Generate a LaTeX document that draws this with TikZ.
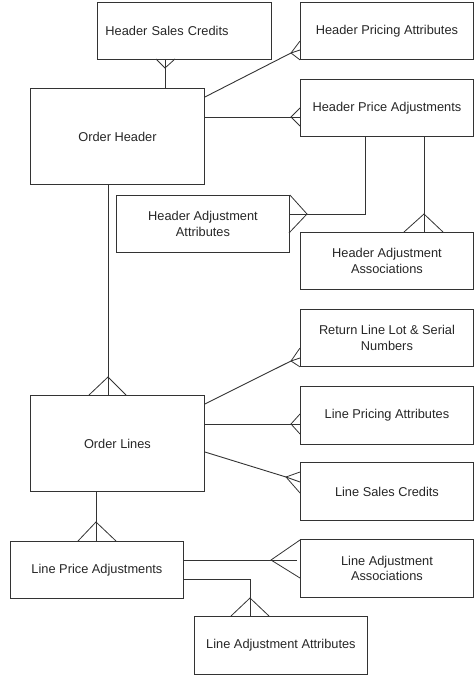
\documentclass[tikz,border=0pt]{standalone}
\usepackage{fontspec}
\setmainfont{Liberation Sans}
\begin{document}
\begin{tikzpicture}[x=1pt,y=-1pt,
  box/.style={draw=black!80, line width=0.9pt, anchor=north west, inner sep=2pt,
    minimum width=173pt, minimum height=57pt, align=center, text=black!85,
    font=\fontsize{12.8}{15.5}\selectfont},
  conn/.style={draw=black!80, line width=0.9pt, line join=miter},
  crow/.style={draw=black!80, line width=0.8pt}]
\useasboundingbox (0,0) rectangle (474,676);
% entities
\node[box, minimum width=174pt, text width=158pt, align=left, inner xsep=8pt] (hsc) at (97,2) {Header Sales Credits};
\node[box] (hpa) at (300,2) {Header Pricing Attributes};
\node[box, minimum width=174pt, minimum height=96pt] (oh) at (30,88) {Order Header};
\node[box] (hpadj) at (300,79) {Header Price Adjustments};
\node[box] (haattr) at (116,195) {Header Adjustment\\Attributes};
\node[box] (haassoc) at (300,232) {Header Adjustment\\Associations};
\node[box] (rll) at (300,309) {Return Line Lot \& Serial\\Numbers};
\node[box, minimum width=174pt, minimum height=96pt] (ol) at (30,395) {Order Lines};
\node[box, minimum height=58pt] (lpattr) at (300,386) {Line Pricing Attributes};
\node[box, minimum height=58pt] (lsc) at (300,462) {Line Sales Credits};
\node[box] (lpadj) at (10,541) {Line Price Adjustments};
\node[box, minimum height=58pt] (laassoc) at (300,539) {Line Adjustment\\Associations};
\node[box, minimum height=58pt] (laattr) at (194,616) {Line Adjustment Attributes};
% helper coordinates
\coordinate (x165) at (165,0);
\coordinate (x108) at (108,0);
\coordinate (x96) at (96,0);
\coordinate (x365) at (365,0);
\coordinate (x424) at (424,0);
\coordinate (x250) at (250,0);
\coordinate (y97) at (0,97);
\coordinate (y117) at (0,117);
\coordinate (y214) at (0,214);
\coordinate (y404) at (0,404);
\coordinate (y424) at (0,424);
\coordinate (y452) at (0,452);
\coordinate (y560) at (0,560);
\coordinate (y579) at (0,579);
% crow apexes
\coordinate (a1) at (165,68);
\coordinate (a2) at (291,53);
\coordinate (a3) at (291,117);
\coordinate (a4) at (307,214);
\coordinate (a5) at (424,214);
\coordinate (a6) at (108,377);
\coordinate (a7) at (291,361);
\coordinate (a8) at (291,424);
\coordinate (a9) at (286,477);
\coordinate (a10) at (96,522);
\coordinate (a11) at (271,560);
\coordinate (a12) at (250,598);
% 1 Order Header - Header Sales Credits
\draw[conn] (oh.north -| x165) -- (hsc.south -| x165);
\draw[crow] (156,59) -- (a1) -- (175,59);
% 2 Order Header - Header Pricing Attributes
\draw[conn] (oh.east |- y97) -- (a2) -- (hpa.west |- 0,50);
\draw[crow] (300,41) -- (a2) -- (hpa.south west);
% 3 Order Header - Header Price Adjustments
\draw[conn] (oh.east |- y117) -- (hpadj.west |- y117);
\draw[crow] (300,108) -- (a3) -- (300,126);
% 4 Header Price Adjustments - Header Adjustment Attributes
\draw[conn] (hpadj.south -| x365) -- (x365 |- y214) -- (haattr.east |- y214);
\draw[crow] (haattr.north east) -- (a4) -- (289,233);
% 5 Header Price Adjustments - Header Adjustment Associations
\draw[conn] (hpadj.south -| x424) -- (haassoc.north -| x424);
\draw[crow] (404,232) -- (a5) -- (443,232);
% 6 Order Header - Order Lines
\draw[conn] (oh.south -| x108) -- (ol.north -| x108);
\draw[crow] (89,395) -- (a6) -- (126,395);
% 7 Order Lines - Return Line Lot
\draw[conn] (ol.east |- y404) -- (a7) -- (rll.west |- 0,358);
\draw[crow] (300,348) -- (a7) -- (rll.south west);
% 8 Order Lines - Line Pricing Attributes
\draw[conn] (ol.east |- y424) -- (lpattr.west |- y424);
\draw[crow] (300,414) -- (a8) -- (300,434);
% 9 Order Lines - Line Sales Credits
\draw[conn] (ol.east |- y452) -- (a9) -- (lsc.west |- 0,482);
\draw[crow] (300,472) -- (a9) -- (300,493);
% 10 Order Lines - Line Price Adjustments
\draw[conn] (ol.south -| x96) -- (lpadj.north -| x96);
\draw[crow] (78,541) -- (a10) -- (116,541);
% 11 Line Price Adjustments - Line Adjustment Associations
\draw[conn] (lpadj.east |- y560) -- (297,560);
\draw[crow] (300,540) -- (a11) -- (300,578);
% 12 Line Price Adjustments - Line Adjustment Attributes
\draw[conn] (lpadj.east |- y579) -- (x250 |- y579) -- (laattr.north -| x250);
\draw[crow] (231,616) -- (a12) -- (269,616);
\end{tikzpicture}
\end{document}
